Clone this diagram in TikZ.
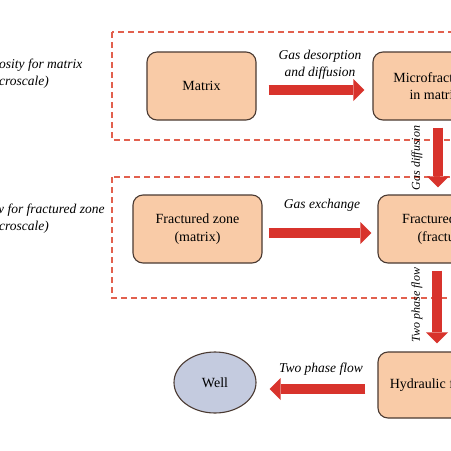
\documentclass[tikz,border=0pt]{standalone}
\usepackage{fontspec}
\setmainfont{Liberation Serif}
\usetikzlibrary{arrows.meta,shapes.geometric}
\definecolor{boxfill}{HTML}{F9CBA7}
\definecolor{boxline}{HTML}{4A3A32}
\definecolor{dashred}{HTML}{E2604E}
\definecolor{arrowred}{HTML}{D8332C}
\definecolor{wellfill}{HTML}{C4CBDF}
\begin{document}
\begin{tikzpicture}[x=1pt,y=-1pt,
  procbox/.style={draw=boxline, line width=1.1pt, fill=boxfill, rounded corners=10pt,
    minimum height=68pt, inner sep=2pt, align=center, font=\fontsize{14}{17.5}\selectfont},
  wellnode/.style={ellipse, draw=boxline, line width=1.1pt, fill=wellfill,
    minimum width=82pt, minimum height=61pt, inner sep=0pt, font=\fontsize{14}{17}\selectfont},
  zonebox/.style={draw=dashred, line width=1.2pt, dash pattern=on 6pt off 4pt},
  bigarrow/.style={draw=arrowred, line width=10pt,
    -{Triangle[length=11pt, width=22pt, line width=0pt]}},
  flowlabel/.style={font=\fontsize{13.5}{17}\selectfont\itshape, align=center, inner sep=0pt},
  sidelabel/.style={font=\fontsize{12}{14}\selectfont\itshape, rotate=90, inner sep=0pt},
  scalelabel/.style={font=\fontsize{13.5}{17}\selectfont\itshape, anchor=west, inner sep=0pt}]
\useasboundingbox (0,0) rectangle (451,451);
\clip (0,0) rectangle (451,451);
\fill[white] (0,0) rectangle (451,451);

% dashed zone frames
\draw[zonebox] (112,32) rectangle (520,140);
\draw[zonebox] (112,177) rectangle (520,298);

% zone captions (cut by the picture edge)
\node[scalelabel] (capa1) at (-1,65) {osity for matrix};
\node[scalelabel] (capa2) at (-1,82) {croscale)};
\node[scalelabel] (capb1) at (-5,210) {w for fractured zone};
\node[scalelabel] (capb2) at (-1,227) {croscale)};

% boxes
\node[procbox, minimum width=109pt] (matrix) at (201.5,86) {Matrix};
\node[procbox, minimum width=124pt] (micro) at (435,86) {Microfractures\\in matrix};
\node[procbox, minimum width=129pt] (fzm) at (197.5,229) {Fractured zone\\(matrix)};
\node[procbox, minimum width=132pt] (fzf) at (444,229) {Fractured zone\\(fracture)};
\node[procbox, minimum width=132pt, minimum height=66pt] (hyd) at (444,385) {Hydraulic fractures};
\node[wellnode] (well) at (215,382.5) {Well};

% arrows
\draw[bigarrow] ([xshift=12pt,yshift=-4pt]matrix.east) -- ([xshift=-8pt,yshift=-4pt]micro.west);
\draw[bigarrow] ([xshift=3pt,yshift=-7pt]micro.south) -- ([xshift=-6pt,yshift=7pt]fzf.north);
\draw[bigarrow] ([xshift=6pt,yshift=-4pt]fzm.east) -- ([xshift=-6pt,yshift=-4pt]fzf.west);
\draw[bigarrow] ([xshift=-7pt,yshift=-7pt]fzf.south) -- ([xshift=-7pt,yshift=8pt]hyd.north);
\draw[bigarrow] ([xshift=-12pt,yshift=-4pt]hyd.west) -- ([xshift=13pt,yshift=-6.5pt]well.east);

% arrow labels
\node[flowlabel] (l1) at (320,64.5) {Gas desorption\\and diffusion};
\node[flowlabel] (l2) at (322,205) {Gas exchange};
\node[flowlabel] (l3) at (321,369) {Two phase flow};
\node[sidelabel] (l4) at (417,158) {Gas diffusion};
\node[sidelabel] (l5) at (417,305) {Two phase flow};
\end{tikzpicture}
\end{document}
